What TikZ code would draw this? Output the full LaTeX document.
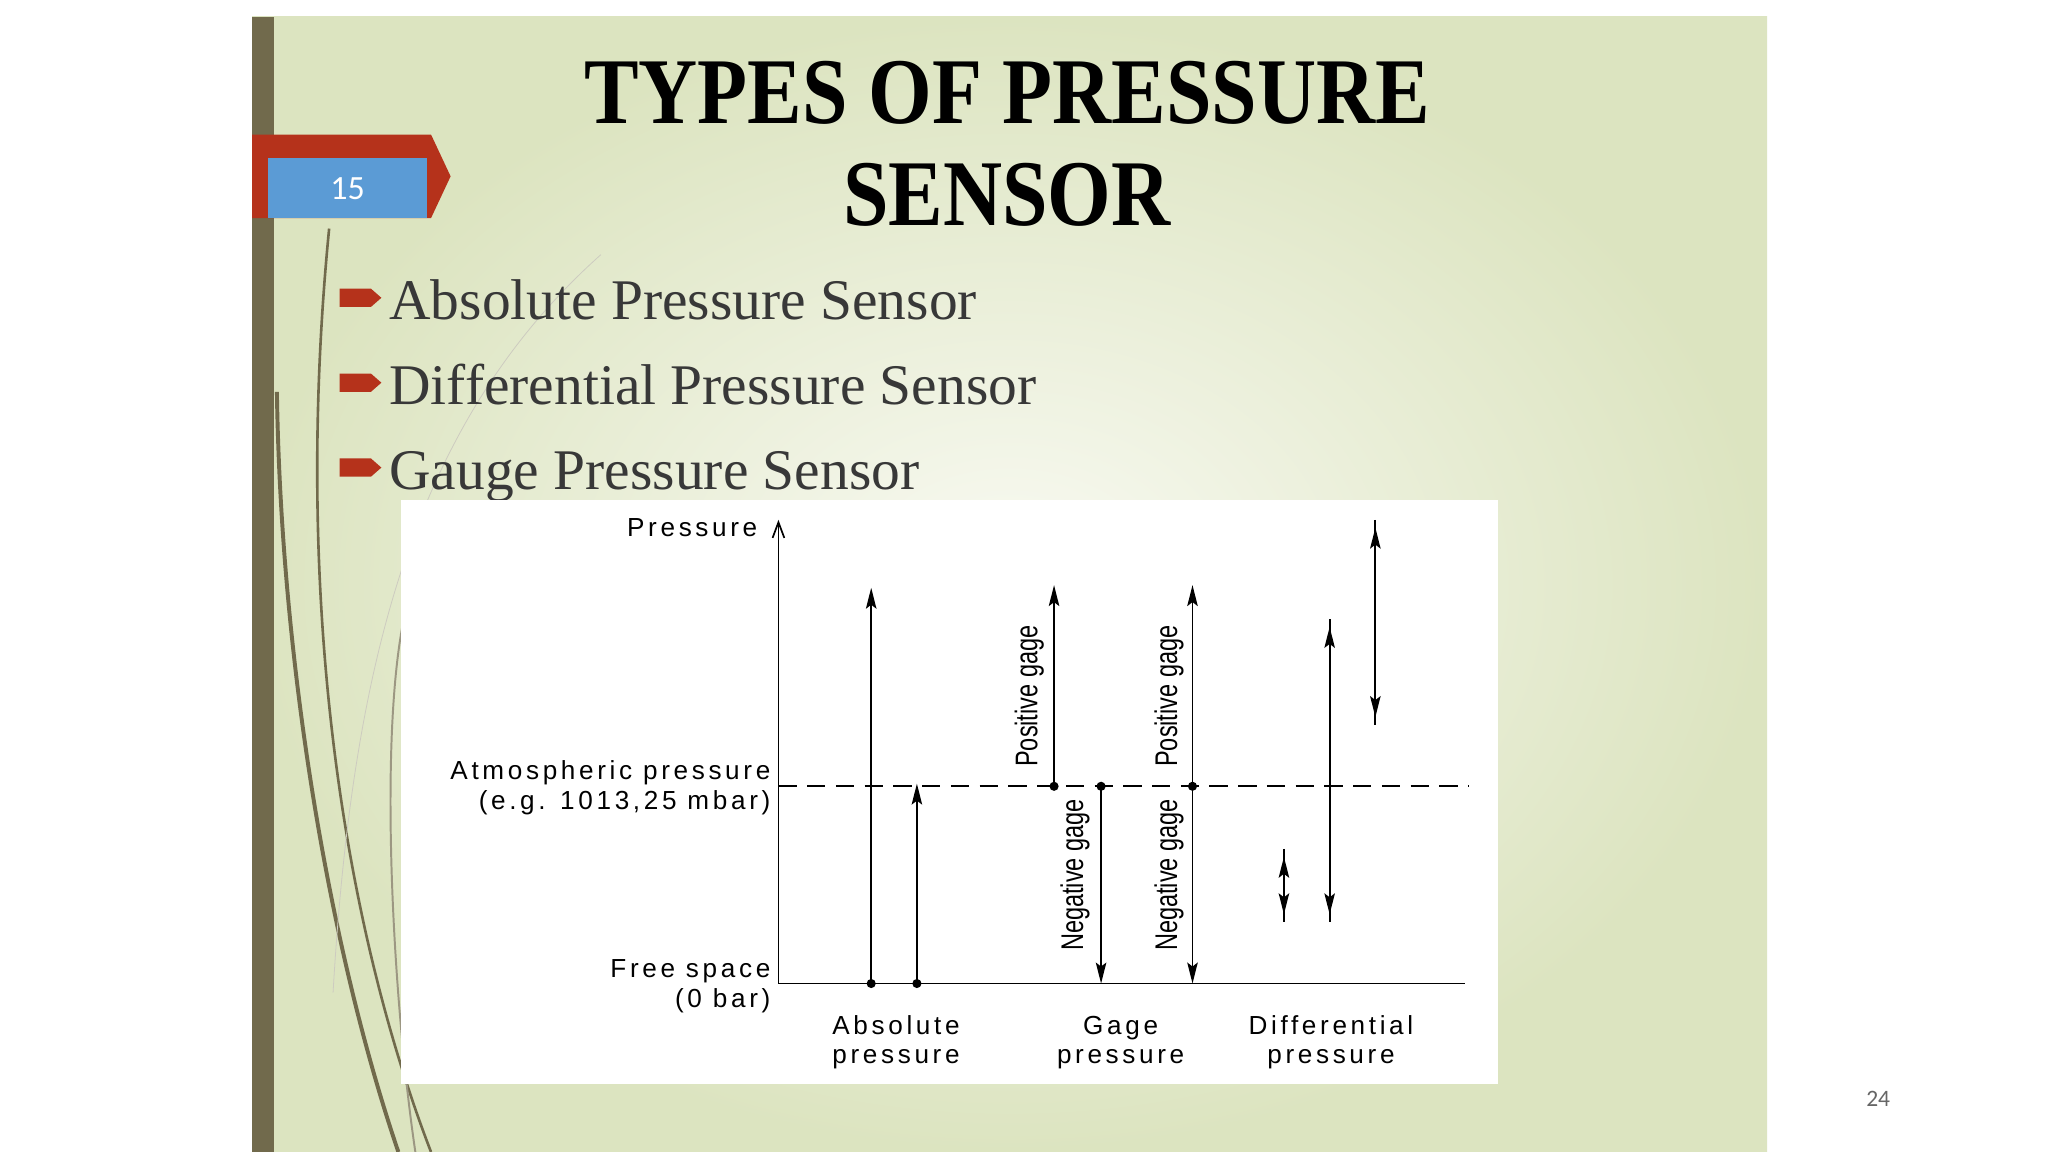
\documentclass[tikz,border=0pt]{standalone}
\usepackage{fontspec}
\setmainfont{Liberation Serif}
\newfontfamily\dsans[LetterSpace=14]{Liberation Sans}
\newfontfamily\calfont{Carlito}
\usetikzlibrary{arrows.meta,shadings}
\definecolor{olive}{HTML}{716A4C}
\definecolor{tabred}{HTML}{B5321B}
\definecolor{tabblue}{HTML}{5B9BD5}
\definecolor{bgout}{HTML}{DCE4C0}
\definecolor{bgin}{HTML}{F9FAF3}
\begin{document}
\begin{tikzpicture}[x=1pt,y=-1pt,
  >={Stealth[length=16pt,width=8pt,inset=3pt]},
  lbl/.style={font=\dsans\fontsize{20}{22.5}\selectfont,inner sep=0pt,align=right},
  rot/.style={font=\fontspec{Liberation Sans}\fontsize{24}{26}\selectfont,inner sep=0pt,rotate=90,xscale=0.75},
  bul/.style={font=\fontsize{44}{48}\selectfont,text=black!78,inner sep=0pt,anchor=base west},
  arr/.style={line width=1.4pt,->},
  dot/.style={circle,fill=black,inner sep=0pt,minimum size=7pt},
  deco/.style={olive,line width=2pt}]
\useasboundingbox (0,0) rectangle (1568,882);
\fill[white] (0,0) rectangle (1568,882);
\shade[outer color=bgout,inner color=bgin] (193,13) rectangle (1353,882);
\fill[olive] (193,13) rectangle (210,882);
% decorative curves
\draw[deco] (330,882) .. controls (260,700) and (225,450) .. (252,175);
\draw[deco,line width=3pt] (305,882) .. controls (250,720) and (215,500) .. (212,300);
\draw[deco,line width=1.5pt,olive!70] (318,882) .. controls (300,760) and (290,560) .. (310,470);
\draw[deco,line width=0.6pt,olive!35] (255,760) .. controls (270,500) and (320,320) .. (460,195);
% tab
\fill[tabred] (193,103) -- (330,103) -- (345,135) -- (330,167) -- (193,167) -- cycle;
\node[fill=tabblue,minimum width=122pt,minimum height=46pt,inner sep=0pt,anchor=north west,
  text=white,font=\calfont\fontsize{26}{28}\selectfont] (num) at (205,121) {15};
% title
\node[font=\bfseries\fontsize{72}{78}\selectfont,align=center,inner sep=0pt,anchor=north,xscale=0.87] (title) at (771,47) {TYPES OF PRESSURE\\SENSOR};
% bullets
\foreach \y/\t [count=\i] in {245/Absolute Pressure Sensor,310/Differential Pressure Sensor,375/Gauge Pressure Sensor}{
  \fill[tabred] (260,\y-24) -- (284,\y-24) -- (292,\y-17) -- (284,\y-10) -- (260,\y-10) -- cycle;
  \node[bul] (b\i) at (298,\y) {\t};
}
% diagram panel
\fill[white] (307,383) rectangle (1147,830);
\coordinate (o) at (596,753);
\coordinate (top) at (596,398);
\coordinate (xe) at (1122,753);
\coordinate (de0) at (596,602);
\coordinate (de1) at (1125,602);
\draw[line width=1.3pt,-{Straight Barb[length=12pt,width=9pt]}] (o) -- (top);
\draw[line width=1.3pt] (o) -- (xe);
\draw[line width=1.3pt,dash pattern=on 14pt off 8pt] (de0) -- (de1);
\node[lbl,anchor=east] (lp) at (580,404) {Pressure};
\node[lbl,anchor=east] (la) at (590,603) {Atmospheric pressure\\(e.g. 1013,25 mbar)};
\node[lbl,anchor=east] (lf) at (590,755) {Free space\\(0 bar)};
\node[lbl,align=center] (ba) at (686,798) {Absolute\\pressure};
\node[lbl,align=center] (bg) at (858,798) {Gage\\pressure};
\node[lbl,align=center] (bd) at (1019,798) {Differential\\pressure};
% absolute
\node[dot] (a1) at (667,753) {}; \coordinate (a1t) at (667,450);
\node[dot] (a2) at (702,753) {}; \coordinate (a2t) at (702,600);
\draw[arr] (a1.center) -- (a1t);
\draw[arr] (a2.center) -- (a2t);
% gage
\node[dot] (g1) at (807,602) {}; \coordinate (g1t) at (807,448);
\node[dot] (g2) at (843,602) {}; \coordinate (g2b) at (843,753);
\node[dot] (g3) at (913,602) {}; \coordinate (g3t) at (913,448); \coordinate (g3b) at (913,753);
\draw[arr] (g1.center) -- (g1t);
\draw[arr] (g2.center) -- (g2b);
\draw[arr] (g3.center) -- (g3t);
\draw[arr] (g3.center) -- (g3b);
\node[rot] (pg1) at (788,533) {Positive gage};
\node[rot] (ng1) at (823,670) {Negative gage};
\node[rot] (pg2) at (895,533) {Positive gage};
\node[rot] (ng2) at (895,670) {Negative gage};
% differential
\coordinate (d1a) at (983,650); \coordinate (d1b) at (983,706);
\coordinate (d2a) at (1018,474); \coordinate (d2b) at (1018,706);
\coordinate (d3a) at (1053,398); \coordinate (d3b) at (1053,555);
\foreach \n in {1,2,3}{
  \draw[line width=1.4pt,<->,shorten <=6pt, shorten >=6pt] (d\n a) -- (d\n b);
  \draw[line width=1.4pt] (d\n a) -- (d\n b);
}
\node[font=\calfont\fontsize{18}{20}\selectfont,text=black!60] (pn) at (1438,841) {24};
\end{tikzpicture}
\end{document}
